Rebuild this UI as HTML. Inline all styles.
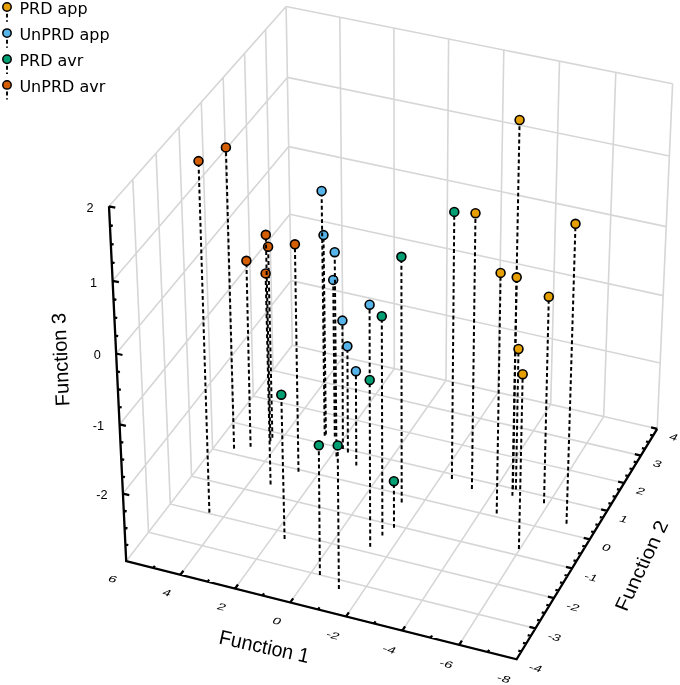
<!DOCTYPE html>
<html><head><meta charset="utf-8"><title>3D scatter</title>
<style>html,body{margin:0;padding:0;background:#fff}svg{display:block}</style></head>
<body>
<svg width="680" height="685" viewBox="0 0 680 685">
<rect width="680" height="685" fill="#fff"/>
<path d="M126.2 561.2L292.3 345.3M180.4 574.8L343.1 356.9M235.1 588.6L394.3 368.7M290.3 602.4L446 380.5M346.1 616.4L498.1 392.4M402.4 630.6L550.7 404.4M459.2 644.9L603.7 416.6M516.6 659.3L657.2 428.8M126.2 561.2L516.6 659.3M148.5 532.3L535.5 628.4M170.3 504L554 598.1M191.6 476.2L572.1 568.4M212.6 449L589.8 539.3M233.1 422.3L607.2 510.9M253.2 396.1L624.2 483M273 370.5L640.9 455.6M292.3 345.3L657.2 428.8M126.2 561.2L109 206.3M148.5 532.3L132.8 179.4M170.3 504L156.1 153.1M191.6 476.2L179 127.4M212.6 449L201.3 102.2M233.1 422.3L223.2 77.5M253.2 396.1L244.6 53.4M273 370.5L265.6 29.7M292.3 345.3L286.1 6.5M126.2 561.2L292.3 345.3M123 493.6L291.2 280.6M119.6 424.4L289.9 214.3M116.2 353.5L288.7 146.6M112.6 280.8L287.4 77.4M109 206.3L286.1 6.5M292.3 345.3L286.1 6.5M343.1 356.9L339.8 17.3M394.3 368.7L393.9 28.1M446 380.5L448.6 39M498.1 392.4L503.8 50M550.7 404.4L559.5 61.1M603.7 416.6L615.8 72.4M657.2 428.8L672.6 83.7M292.3 345.3L657.2 428.8M291.2 280.6L660.2 363M289.9 214.3L663.2 295.6M288.7 146.6L666.2 226.6M287.4 77.4L669.4 156M286.1 6.5L672.6 83.7" fill="none" stroke="#d6d6d6" stroke-width="1.6"/>
<path d="M512.4 495.8L519.6 120" stroke="#000" stroke-width="2" stroke-dasharray="3.9 2.75" stroke-dashoffset="0" fill="none"/>
<circle cx="519.6" cy="120" r="4.45" fill="#E69F00" stroke="#000" stroke-width="1.6"/>
<path d="M471.9 488.9L475.5 213.2" stroke="#000" stroke-width="2" stroke-dasharray="3.9 2.75" stroke-dashoffset="0" fill="none"/>
<circle cx="475.5" cy="213.2" r="4.45" fill="#E69F00" stroke="#000" stroke-width="1.6"/>
<path d="M566.5 523.7L575.5 223.8" stroke="#000" stroke-width="2" stroke-dasharray="3.9 2.75" stroke-dashoffset="0" fill="none"/>
<circle cx="575.5" cy="223.8" r="4.45" fill="#E69F00" stroke="#000" stroke-width="1.6"/>
<path d="M496.7 513.4L500.6 272.9" stroke="#000" stroke-width="2" stroke-dasharray="3.9 2.75" stroke-dashoffset="0" fill="none"/>
<circle cx="500.6" cy="272.9" r="4.45" fill="#E69F00" stroke="#000" stroke-width="1.6"/>
<path d="M512.9 489.2L516.7 277.3" stroke="#000" stroke-width="2" stroke-dasharray="3.9 2.75" stroke-dashoffset="0" fill="none"/>
<circle cx="516.7" cy="277.3" r="4.45" fill="#E69F00" stroke="#000" stroke-width="1.6"/>
<path d="M544 503.2L548.8 296.7" stroke="#000" stroke-width="2" stroke-dasharray="3.9 2.75" stroke-dashoffset="0" fill="none"/>
<circle cx="548.8" cy="296.7" r="4.45" fill="#E69F00" stroke="#000" stroke-width="1.6"/>
<path d="M515.9 489.5L518.5 349" stroke="#000" stroke-width="2" stroke-dasharray="3.9 2.75" stroke-dashoffset="0" fill="none"/>
<circle cx="518.5" cy="349" r="4.45" fill="#E69F00" stroke="#000" stroke-width="1.6"/>
<path d="M518.9 549L522.7 374.2" stroke="#000" stroke-width="2" stroke-dasharray="3.9 2.75" stroke-dashoffset="0" fill="none"/>
<circle cx="522.7" cy="374.2" r="4.45" fill="#E69F00" stroke="#000" stroke-width="1.6"/>
<path d="M325.9 434.5L323.5 235.1" stroke="#000" stroke-width="2" stroke-dasharray="3.9 2.75" stroke-dashoffset="0" fill="none"/>
<circle cx="323.5" cy="235.1" r="4.45" fill="#56B4E9" stroke="#000" stroke-width="1.6"/>
<path d="M324.7 435.8L321.6 191" stroke="#000" stroke-width="2" stroke-dasharray="3.9 2.75" stroke-dashoffset="0" fill="none"/>
<circle cx="321.6" cy="191" r="4.45" fill="#56B4E9" stroke="#000" stroke-width="1.6"/>
<path d="M334.8 436.6L333.2 279.9" stroke="#000" stroke-width="2" stroke-dasharray="3.9 2.75" stroke-dashoffset="0" fill="none"/>
<circle cx="333.2" cy="279.9" r="4.45" fill="#56B4E9" stroke="#000" stroke-width="1.6"/>
<path d="M336.5 456.5L334.7 252.2" stroke="#000" stroke-width="2" stroke-dasharray="3.9 2.75" stroke-dashoffset="0" fill="none"/>
<circle cx="334.7" cy="252.2" r="4.45" fill="#56B4E9" stroke="#000" stroke-width="1.6"/>
<path d="M369.7 380L369.6 304.7" stroke="#000" stroke-width="2" stroke-dasharray="3.9 2.75" stroke-dashoffset="0" fill="none"/>
<circle cx="369.6" cy="304.7" r="4.45" fill="#56B4E9" stroke="#000" stroke-width="1.6"/>
<path d="M342.9 449.1L342.4 320.6" stroke="#000" stroke-width="2" stroke-dasharray="3.9 2.75" stroke-dashoffset="0" fill="none"/>
<circle cx="342.4" cy="320.6" r="4.45" fill="#56B4E9" stroke="#000" stroke-width="1.6"/>
<path d="M347.9 452.4L347.4 346.3" stroke="#000" stroke-width="2" stroke-dasharray="3.9 2.75" stroke-dashoffset="0" fill="none"/>
<circle cx="347.4" cy="346.3" r="4.45" fill="#56B4E9" stroke="#000" stroke-width="1.6"/>
<path d="M356.3 465.6L355.9 371.2" stroke="#000" stroke-width="2" stroke-dasharray="3.9 2.75" stroke-dashoffset="0" fill="none"/>
<circle cx="355.9" cy="371.2" r="4.45" fill="#56B4E9" stroke="#000" stroke-width="1.6"/>
<path d="M451.9 479L454.3 211.9" stroke="#000" stroke-width="2" stroke-dasharray="3.9 2.75" stroke-dashoffset="0" fill="none"/>
<circle cx="454.3" cy="211.9" r="4.45" fill="#009E73" stroke="#000" stroke-width="1.6"/>
<path d="M401.7 502.4L401.4 256.8" stroke="#000" stroke-width="2" stroke-dasharray="3.9 2.75" stroke-dashoffset="0" fill="none"/>
<circle cx="401.4" cy="256.8" r="4.45" fill="#009E73" stroke="#000" stroke-width="1.6"/>
<path d="M382.4 535.6L381.8 316.2" stroke="#000" stroke-width="2" stroke-dasharray="3.9 2.75" stroke-dashoffset="0" fill="none"/>
<circle cx="381.8" cy="316.2" r="4.45" fill="#009E73" stroke="#000" stroke-width="1.6"/>
<path d="M370.2 546.8L369.7 380" stroke="#000" stroke-width="2" stroke-dasharray="3.9 2.75" stroke-dashoffset="0" fill="none"/>
<circle cx="369.7" cy="380" r="4.45" fill="#009E73" stroke="#000" stroke-width="1.6"/>
<path d="M284.6 539L281.3 394.7" stroke="#000" stroke-width="2" stroke-dasharray="3.9 2.75" stroke-dashoffset="0" fill="none"/>
<circle cx="281.3" cy="394.7" r="4.45" fill="#009E73" stroke="#000" stroke-width="1.6"/>
<path d="M319.9 574.9L318.8 445.3" stroke="#000" stroke-width="2" stroke-dasharray="3.9 2.75" stroke-dashoffset="0" fill="none"/>
<circle cx="318.8" cy="445.3" r="4.45" fill="#009E73" stroke="#000" stroke-width="1.6"/>
<path d="M338.9 589L337.7 445.4" stroke="#000" stroke-width="2" stroke-dasharray="3.9 2.75" stroke-dashoffset="0" fill="none"/>
<circle cx="337.7" cy="445.4" r="4.45" fill="#009E73" stroke="#000" stroke-width="1.6"/>
<path d="M394 527.8L393.9 481.2" stroke="#000" stroke-width="2" stroke-dasharray="3.9 2.75" stroke-dashoffset="0" fill="none"/>
<circle cx="393.9" cy="481.2" r="4.45" fill="#009E73" stroke="#000" stroke-width="1.6"/>
<path d="M209.4 512.6L198.5 161.1" stroke="#000" stroke-width="2" stroke-dasharray="3.9 2.75" stroke-dashoffset="0" fill="none"/>
<circle cx="198.5" cy="161.1" r="4.45" fill="#D55E00" stroke="#000" stroke-width="1.6"/>
<path d="M234.1 448.6L225.9 147.4" stroke="#000" stroke-width="2" stroke-dasharray="3.9 2.75" stroke-dashoffset="0" fill="none"/>
<circle cx="225.9" cy="147.4" r="4.45" fill="#D55E00" stroke="#000" stroke-width="1.6"/>
<path d="M272.4 437.8L268.1 246.7" stroke="#000" stroke-width="2" stroke-dasharray="3.9 2.75" stroke-dashoffset="0" fill="none"/>
<circle cx="268.1" cy="246.7" r="4.45" fill="#D55E00" stroke="#000" stroke-width="1.6"/>
<path d="M250.6 446.8L246.4 260.8" stroke="#000" stroke-width="2" stroke-dasharray="3.9 2.75" stroke-dashoffset="0" fill="none"/>
<circle cx="246.4" cy="260.8" r="4.45" fill="#D55E00" stroke="#000" stroke-width="1.6"/>
<path d="M270.6 484.4L265.6 273.4" stroke="#000" stroke-width="2" stroke-dasharray="3.9 2.75" stroke-dashoffset="0" fill="none"/>
<circle cx="265.6" cy="273.4" r="4.45" fill="#D55E00" stroke="#000" stroke-width="1.6"/>
<path d="M270.4 441.2L265.8 234.8" stroke="#000" stroke-width="2" stroke-dasharray="3.9 2.75" stroke-dashoffset="0" fill="none"/>
<circle cx="265.8" cy="234.8" r="4.45" fill="#D55E00" stroke="#000" stroke-width="1.6"/>
<path d="M298.5 471.7L294.9 244.3" stroke="#000" stroke-width="2" stroke-dasharray="3.9 2.75" stroke-dashoffset="0" fill="none"/>
<circle cx="294.9" cy="244.3" r="4.45" fill="#D55E00" stroke="#000" stroke-width="1.6"/>
<path d="M109 206.3L126.2 561.2L516.6 659.3L657.2 428.8M125.4 544.5l2.9 0.7M124.6 527.6l2.9 0.7M123.8 510.7l2.9 0.7M123 493.6l6.3 1.5M122.1 476.5l2.9 0.7M121.3 459.2l2.9 0.7M120.4 441.9l2.9 0.7M119.6 424.4l6.3 1.5M118.8 406.8l2.9 0.7M117.9 389.1l2.9 0.7M117 371.4l2.9 0.7M116.2 353.5l6.3 1.5M115.3 335.5l2.9 0.7M114.4 317.3l2.9 0.7M113.5 299.1l2.9 0.7M112.6 280.8l6.3 1.4M111.7 262.3l2.9 0.7M110.8 243.8l2.9 0.7M109.9 225.1l2.9 0.7M109 206.3l6.3 1.4M153.3 568l1.6 -2.1M180.4 574.8l3 -4M207.7 581.7l1.5 -2.1M235.1 588.6l2.9 -4.1M262.6 595.5l1.5 -2.1M290.3 602.4l2.9 -4.1M318.1 609.4l1.5 -2.1M346.1 616.4l2.8 -4.1M374.2 623.5l1.4 -2.2M402.4 630.6l2.7 -4.2M430.7 637.7l1.4 -2.2M459.2 644.9l2.7 -4.2M487.8 652.1l1.4 -2.2M521.4 651.5l-3.1 -0.8M526.1 643.7l-3.1 -0.8M530.8 636l-3.1 -0.8M535.5 628.4l-6.1 -1.5M540.2 620.7l-3.1 -0.8M544.8 613.1l-3.1 -0.8M549.4 605.6l-3.1 -0.8M554 598.1l-6.1 -1.5M558.5 590.6l-3.1 -0.8M563.1 583.2l-3.1 -0.8M567.6 575.8l-3.1 -0.8M572.1 568.4l-6.1 -1.5M576.6 561.1l-3.1 -0.8M581 553.8l-3.1 -0.7M585.4 546.6l-3.1 -0.7M589.8 539.3l-6.1 -1.5M594.2 532.2l-3.1 -0.7M598.5 525l-3.1 -0.7M602.9 517.9l-3.1 -0.7M607.2 510.9l-6.1 -1.5M611.5 503.9l-3.1 -0.7M615.7 496.9l-3.1 -0.7M620 489.9l-3.1 -0.7M624.2 483l-6.1 -1.4M628.4 476.1l-3.1 -0.7M632.6 469.2l-3.1 -0.7M636.8 462.4l-3.1 -0.7M640.9 455.6l-6.1 -1.4M645 448.9l-3.1 -0.7M649.1 442.2l-3.1 -0.7M653.2 435.5l-3.1 -0.7M657.2 428.8l-6.1 -1.4" fill="none" stroke="#000" stroke-width="2.3" stroke-linejoin="miter"/>
<text transform="matrix(1.338 0.336 -0.495 0.811 110.9 582)" font-size="10.6" text-anchor="middle" font-family="Liberation Sans, Arial, sans-serif">6</text>
<text transform="matrix(1.338 0.336 -0.495 0.811 165.2 595.8)" font-size="10.6" text-anchor="middle" font-family="Liberation Sans, Arial, sans-serif">4</text>
<text transform="matrix(1.338 0.336 -0.495 0.811 220 609.8)" font-size="10.6" text-anchor="middle" font-family="Liberation Sans, Arial, sans-serif">2</text>
<text transform="matrix(1.338 0.336 -0.495 0.811 275.3 623.9)" font-size="10.6" text-anchor="middle" font-family="Liberation Sans, Arial, sans-serif">0</text>
<text transform="matrix(1.338 0.336 -0.495 0.811 331.2 638.1)" font-size="10.6" text-anchor="middle" font-family="Liberation Sans, Arial, sans-serif">-2</text>
<text transform="matrix(1.338 0.336 -0.495 0.811 387.6 652.4)" font-size="10.6" text-anchor="middle" font-family="Liberation Sans, Arial, sans-serif">-4</text>
<text transform="matrix(1.338 0.336 -0.495 0.811 444.6 666.9)" font-size="10.6" text-anchor="middle" font-family="Liberation Sans, Arial, sans-serif">-6</text>
<text transform="matrix(1.338 0.336 -0.495 0.811 502.1 681.6)" font-size="10.6" text-anchor="middle" font-family="Liberation Sans, Arial, sans-serif">-8</text>
<text transform="matrix(1.338 0.336 -0.495 0.811 527.5 669.4)" font-size="10.6" text-anchor="start" font-family="Liberation Sans, Arial, sans-serif">-4</text>
<text transform="matrix(1.338 0.336 -0.495 0.811 546.4 638.4)" font-size="10.6" text-anchor="start" font-family="Liberation Sans, Arial, sans-serif">-3</text>
<text transform="matrix(1.338 0.336 -0.495 0.811 564.9 608.2)" font-size="10.6" text-anchor="start" font-family="Liberation Sans, Arial, sans-serif">-2</text>
<text transform="matrix(1.338 0.336 -0.495 0.811 583 578.5)" font-size="10.6" text-anchor="start" font-family="Liberation Sans, Arial, sans-serif">-1</text>
<text transform="matrix(1.338 0.336 -0.495 0.811 600.7 549.4)" font-size="10.6" text-anchor="start" font-family="Liberation Sans, Arial, sans-serif">0</text>
<text transform="matrix(1.338 0.336 -0.495 0.811 618.1 521)" font-size="10.6" text-anchor="start" font-family="Liberation Sans, Arial, sans-serif">1</text>
<text transform="matrix(1.338 0.336 -0.495 0.811 635.1 493.1)" font-size="10.6" text-anchor="start" font-family="Liberation Sans, Arial, sans-serif">2</text>
<text transform="matrix(1.338 0.336 -0.495 0.811 651.8 465.7)" font-size="10.6" text-anchor="start" font-family="Liberation Sans, Arial, sans-serif">3</text>
<text transform="matrix(1.338 0.336 -0.495 0.811 668.1 438.9)" font-size="10.6" text-anchor="start" font-family="Liberation Sans, Arial, sans-serif">4</text>
<text transform="translate(93.5 212.1) scale(1.06 1)" font-size="12" text-anchor="end" font-family="Liberation Sans, Arial, sans-serif">2</text>
<text transform="translate(97.1 286.6) scale(1.06 1)" font-size="12" text-anchor="end" font-family="Liberation Sans, Arial, sans-serif">1</text>
<text transform="translate(100.7 359.3) scale(1.06 1)" font-size="12" text-anchor="end" font-family="Liberation Sans, Arial, sans-serif">0</text>
<text transform="translate(104.1 430.2) scale(1.06 1)" font-size="12" text-anchor="end" font-family="Liberation Sans, Arial, sans-serif">-1</text>
<text transform="translate(107.5 499.4) scale(1.06 1)" font-size="12" text-anchor="end" font-family="Liberation Sans, Arial, sans-serif">-2</text>
<text transform="translate(218.1 643.5) rotate(12.4) scale(0.96 1)" font-size="20.5" font-family="Liberation Sans, Arial, sans-serif">Function 1</text>
<text transform="matrix(0.471 -0.983 0.934 0.358 626.4 612.3)" font-size="19.3" font-family="Liberation Sans, Arial, sans-serif">Function 2</text>
<text transform="translate(69.4 405.9) rotate(-92.5)" font-size="20" font-family="Liberation Sans, Arial, sans-serif">Function 3</text>
<path d="M7 7V21.7" stroke="#000" stroke-width="1.9" stroke-dasharray="3.9 2.75" fill="none"/>
<circle cx="7" cy="7" r="4.2" fill="#E69F00" stroke="#000" stroke-width="1.5"/>
<text x="19.4" y="13.8" font-size="16" font-family="DejaVu Sans, Verdana, sans-serif">PRD app</text>
<path d="M7 33.1V47.8" stroke="#000" stroke-width="1.9" stroke-dasharray="3.9 2.75" fill="none"/>
<circle cx="7" cy="33.1" r="4.2" fill="#56B4E9" stroke="#000" stroke-width="1.5"/>
<text x="19.4" y="40.2" font-size="16" font-family="DejaVu Sans, Verdana, sans-serif">UnPRD app</text>
<path d="M7 59.2V73.9" stroke="#000" stroke-width="1.9" stroke-dasharray="3.9 2.75" fill="none"/>
<circle cx="7" cy="59.2" r="4.2" fill="#009E73" stroke="#000" stroke-width="1.5"/>
<text x="19.4" y="66.2" font-size="16" font-family="DejaVu Sans, Verdana, sans-serif">PRD avr</text>
<path d="M7 84.9V99.6" stroke="#000" stroke-width="1.9" stroke-dasharray="3.9 2.75" fill="none"/>
<circle cx="7" cy="84.9" r="4.2" fill="#D55E00" stroke="#000" stroke-width="1.5"/>
<text x="19.4" y="92.1" font-size="16" font-family="DejaVu Sans, Verdana, sans-serif">UnPRD avr</text>
</svg>
</body></html>
